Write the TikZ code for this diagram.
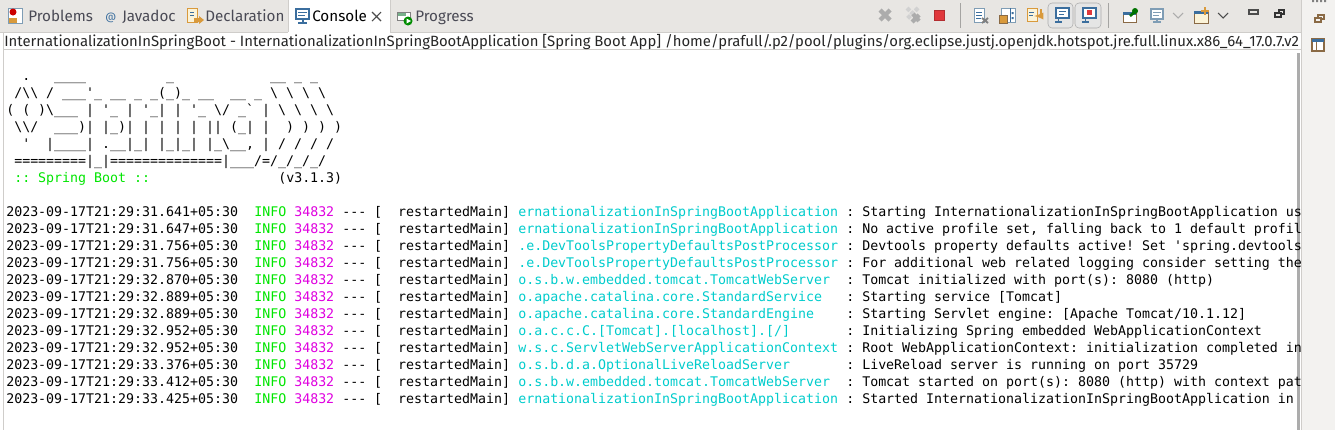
\documentclass[tikz,border=0pt]{standalone}
\usepackage{fontspec}
\setmainfont{Fira Sans}
\setmonofont{DejaVu Sans Mono}
\definecolor{chrome}{HTML}{E8E6E3}
\definecolor{side}{HTML}{F3F2F0}
\definecolor{tabtext}{HTML}{4A4A55}
\definecolor{infogreen}{HTML}{00E600}
\definecolor{pidmag}{HTML}{E000E0}
\definecolor{logcyan}{HTML}{00CCCC}
\definecolor{edge}{HTML}{CFCDCA}
\definecolor{iconblue}{HTML}{3B6E9E}
\definecolor{iconpale}{HTML}{7F9DB5}
\definecolor{icongray}{HTML}{ACACAC}
\definecolor{iconred}{HTML}{E0383C}
\definecolor{iconorange}{HTML}{D99A3C}
\definecolor{iconcream}{HTML}{FBF3D8}
\definecolor{iconbrown}{HTML}{8A6A45}
\definecolor{icongreen}{HTML}{3E8E5A}
\tikzset{
  mono/.style={inner sep=0pt,anchor=base west,font=\fontsize{9.96}{12}\ttfamily,text=black},
  tab/.style={inner sep=0pt,anchor=base west,font=\fontsize{11.4}{13}\selectfont,text=tabtext},
}
\newcommand{\logline}[5]{%
  \node[mono] (t#1) at (6,#2) {#3};
  \node[mono,text=infogreen] (i#1) at (254,#2) {INFO};
  \node[mono,text=pidmag] (p#1) at (294,#2) {34832};
  \node[mono] (d#1) at (342,#2) {---~[~~restartedMain]};
  \node[mono,text=logcyan] (c#1) at (518,#2) {#4};
  \node[mono] (s#1) at (846,#2) {:~#5};
}
\begin{document}
\begin{tikzpicture}[x=0.75pt,y=-0.75pt]
\useasboundingbox (0,0) rectangle (1335,430);
\fill[white] (0,0) rectangle (1335,430);
\fill[chrome] (0,0) rectangle (1301,32);
\fill[side] (1301,0) rectangle (1335,430);
\draw[edge] (1301,0) -- (1301,430);
\fill[white] (288,0) rectangle (390,32);
\draw[edge] (288,0) -- (288,32) (390,0) -- (390,32);
\draw[edge] (3,32) -- (3,430);
\draw[edge] (0,32) -- (288,32) (390,32) -- (1301,32);
\draw[edge] (3,49.5) -- (1301,49.5);
\fill[icongray] (1296.5,53) rectangle (1299.5,430);
% tab labels
\node[tab] (tp) at (28,21) {Problems};
\node[tab] (tj) at (122,21) {Javadoc};
\node[tab] (td) at (205,21) {Declaration};
\node[tab,text=black] (tc) at (312,21) {Console};
\node[tab] (tg) at (415,21) {Progress};
\node[tab,text=iconblue,font=\fontsize{8}{10}\selectfont] (ta) at (105,20) {@};
\draw[thick,black!70] (372,12) -- (381,21) (381,12) -- (372,21);
% tab icons
\draw[iconpale,fill=white] (8,8) rectangle (22,23);
\fill[red!80!black] (13,12) circle (3.5);
\fill[iconorange] (9,18) rectangle (17,23);
\draw[iconorange,fill=iconcream] (187,8) rectangle (197,22);
\draw[iconblue] (190,12) -- (194,12) (190,15) -- (194,15);
\fill[iconorange] (194,18) -- (199,18) -- (199,16) -- (204,20) -- (199,24) -- (199,22) -- (194,22) -- cycle;
\draw[iconblue,fill=white,line width=1pt] (296,9) rectangle (309,19);
\draw[iconblue] (298,12) -- (307,12) (298,15) -- (305,15);
\draw[iconblue,line width=1.5pt] (298,23) -- (307,23) (302.5,19) -- (302.5,23);
\draw[gray,fill=white] (397,12) rectangle (410,20);
\fill[icongreen!70] (398,13) rectangle (406,16);
\fill[green!55!black] (408,21) circle (4.5);
\fill[white] (406.5,18.5) -- (411,21) -- (406.5,23.5) -- cycle;
% header
\node[inner sep=0pt,anchor=base west,font=\fontsize{11.15}{13}\selectfont,text=black!85] (hdr) at (4,46) {InternationalizationInSpringBoot - InternationalizationInSpringBootApplication [Spring Boot App] /home/prafull/.p2/pool/plugins/org.eclipse.justj.openjdk.hotspot.jre.full.linux.x86\_64\_17.0.7.v2};
% toolbar icons
\draw[line width=3.2pt,icongray] (880,10) -- (890,20) (890,10) -- (880,20);
\draw[line width=3pt,icongray!55,dash pattern=on 3pt off 1pt] (907,8) -- (913,14) (918,8) -- (907,19);
\draw[line width=3.2pt,icongray] (913,14) -- (919,21) (919,15) -- (912,22);
\draw[iconred!80!black,fill=iconred] (934,10) rectangle (944,20);
\draw[edge!80!black] (960,3) -- (960,28);
\draw[iconpale,fill=white] (974,8) rectangle (984,22);
\draw[iconblue] (976,12) -- (982,12) (976,15) -- (982,15) (976,18) -- (981,18);
\draw[black!50,line width=1.4pt] (982,18) -- (988,23) (988,18) -- (982,23);
\draw[iconpale,fill=white] (1001,8) rectangle (1015,22);
\draw[iconblue] (1010,8) -- (1010,22);
\fill[iconblue] (1011.5,12) rectangle (1013.5,14) (1011.5,17) rectangle (1013.5,19);
\draw[iconbrown] (1000.5,15) arc (180:0:2.5);
\draw[iconbrown,fill=iconorange] (999,15) rectangle (1007,23);
\draw[iconorange,fill=iconcream] (1027,8) rectangle (1037,21);
\draw[iconblue] (1029,12) -- (1034,12) (1029,15) -- (1033,15);
\draw[iconorange,line width=1.4pt,-latex] (1041,9) -- (1041,16) -- (1034,16);
\draw[icongray,fill=black!10,rounded corners=3pt] (1048,3) rectangle (1073,28);
\draw[icongray,fill=black!10,rounded corners=3pt] (1075,3) rectangle (1101,28);
\draw[iconblue,fill=white,line width=.8pt] (1056,8) rectangle (1069,18);
\draw[iconblue] (1059,11) -- (1066,11) (1059,14) -- (1064,14);
\draw[iconblue,line width=1.4pt] (1055,22) -- (1062,22) (1058.5,18) -- (1058.5,22);
\draw[iconblue,fill=white,line width=.8pt] (1083,8) rectangle (1096,18);
\fill[iconred] (1087,10) rectangle (1092,15);
\draw[iconblue,line width=1.4pt] (1082,22) -- (1089,22) (1085.5,18) -- (1085.5,22);
\draw[edge!80!black] (1108,3) -- (1108,28);
\draw[iconbrown,fill=white] (1123,12) rectangle (1136,22);
\fill[iconblue] (1123,12) rectangle (1136,15);
\draw[green!45!black,line width=2pt] (1130,16) -- (1137,10);
\fill[green!45!black] (1135,11) circle (3);
\draw[iconpale,fill=white,line width=1pt] (1151,9) rectangle (1163,19);
\draw[iconpale] (1153,12) -- (1161,12) (1153,15) -- (1159,15);
\draw[iconpale,line width=1.4pt] (1153,22) -- (1161,22) (1157,19) -- (1157,22);
\draw[icongray,thick] (1173,13) -- (1178,18) -- (1183,13);
\draw[iconbrown,fill=iconcream] (1194,11) rectangle (1208,23);
\fill[iconblue] (1194,11) rectangle (1208,14);
\draw[iconorange,line width=1pt] (1205,7) -- (1205,15) (1201,11) -- (1209,11);
\draw[black!70,thick] (1218,13) -- (1223,18) -- (1228,13);
\draw[black!70,thick] (1249,10) rectangle (1258,14);
\draw[black!80,thick] (1279,10) rectangle (1284,14);
\draw[black!80,thick,fill=chrome] (1275,13) rectangle (1281,17);
% side panel icons
\fill[gray] (1312,0) rectangle (1314,2) (1316,0) rectangle (1318,2) (1320,0) rectangle (1322,2) (1324,0) rectangle (1326,2);
\draw[iconbrown,thick] (1318,15) rectangle (1324,19);
\draw[iconbrown,thick,fill=side] (1315,18) rectangle (1321,22);
\draw[iconbrown,thick,fill=white] (1312,39) rectangle (1324,51);
\fill[iconblue] (1312,39) rectangle (1324,42);
\draw[iconbrown] (1316,42) -- (1316,51);
% banner
\node[mono] (b1) at (6,80) {~~.~~~\_\_\_\_~~~~~~~~~~\_~~~~~~~~~~~~\_\_~\_~\_};
\node[mono] (b2) at (6,97) {~/\textbackslash\textbackslash~/~\_\_\_'\_~\_\_~\_~\_(\_)\_~\_\_~~\_\_~\_~\textbackslash~\textbackslash~\textbackslash~\textbackslash};
\node[mono] (b3) at (6,114) {(~(~)\textbackslash\_\_\_~|~'\_~|~'\_|~|~'\_~\textbackslash/~\_`~|~\textbackslash~\textbackslash~\textbackslash~\textbackslash};
\node[mono] (b4) at (6,131) {~\textbackslash\textbackslash/~~\_\_\_)|~|\_)|~|~|~|~|~||~(\_|~|~~)~)~)~)};
\node[mono] (b5) at (6,148) {~~'~~|\_\_\_\_|~.\_\_|\_|~|\_|\_|~|\_\textbackslash\_\_,~|~/~/~/~/};
\node[mono] (b6) at (6,165) {~=========|\_|==============|\_\_\_/=/\_/\_/\_/};
\node[mono,text=infogreen] (b7) at (6,182) {~::~Spring~Boot~::};
\node[mono] (b8) at (278,182) {(v3.1.3)};
% log
\logline{1}{216}{2023-09-17T21:29:31.641+05:30}{ernationalizationInSpringBootApplication}{Starting InternationalizationInSpringBootApplication us}
\logline{2}{233}{2023-09-17T21:29:31.647+05:30}{ernationalizationInSpringBootApplication}{No active profile set, falling back to 1 default profil}
\logline{3}{250}{2023-09-17T21:29:31.756+05:30}{.e.DevToolsPropertyDefaultsPostProcessor}{Devtools property defaults active! Set 'spring.devtools}
\logline{4}{267}{2023-09-17T21:29:31.756+05:30}{.e.DevToolsPropertyDefaultsPostProcessor}{For additional web related logging consider setting the}
\logline{5}{284}{2023-09-17T21:29:32.870+05:30}{o.s.b.w.embedded.tomcat.TomcatWebServer}{Tomcat initialized with port(s): 8080 (http)}
\logline{6}{301}{2023-09-17T21:29:32.889+05:30}{o.apache.catalina.core.StandardService}{Starting service [Tomcat]}
\logline{7}{318}{2023-09-17T21:29:32.889+05:30}{o.apache.catalina.core.StandardEngine}{Starting Servlet engine: [Apache Tomcat/10.1.12]}
\logline{8}{335}{2023-09-17T21:29:32.952+05:30}{o.a.c.c.C.[Tomcat].[localhost].[/]}{Initializing Spring embedded WebApplicationContext}
\logline{9}{352}{2023-09-17T21:29:32.952+05:30}{w.s.c.ServletWebServerApplicationContext}{Root WebApplicationContext: initialization completed in}
\logline{10}{369}{2023-09-17T21:29:33.376+05:30}{o.s.b.d.a.OptionalLiveReloadServer}{LiveReload server is running on port 35729}
\logline{11}{386}{2023-09-17T21:29:33.412+05:30}{o.s.b.w.embedded.tomcat.TomcatWebServer}{Tomcat started on port(s): 8080 (http) with context pat}
\logline{12}{403}{2023-09-17T21:29:33.425+05:30}{ernationalizationInSpringBootApplication}{Started InternationalizationInSpringBootApplication in}
\end{tikzpicture}
\end{document}
